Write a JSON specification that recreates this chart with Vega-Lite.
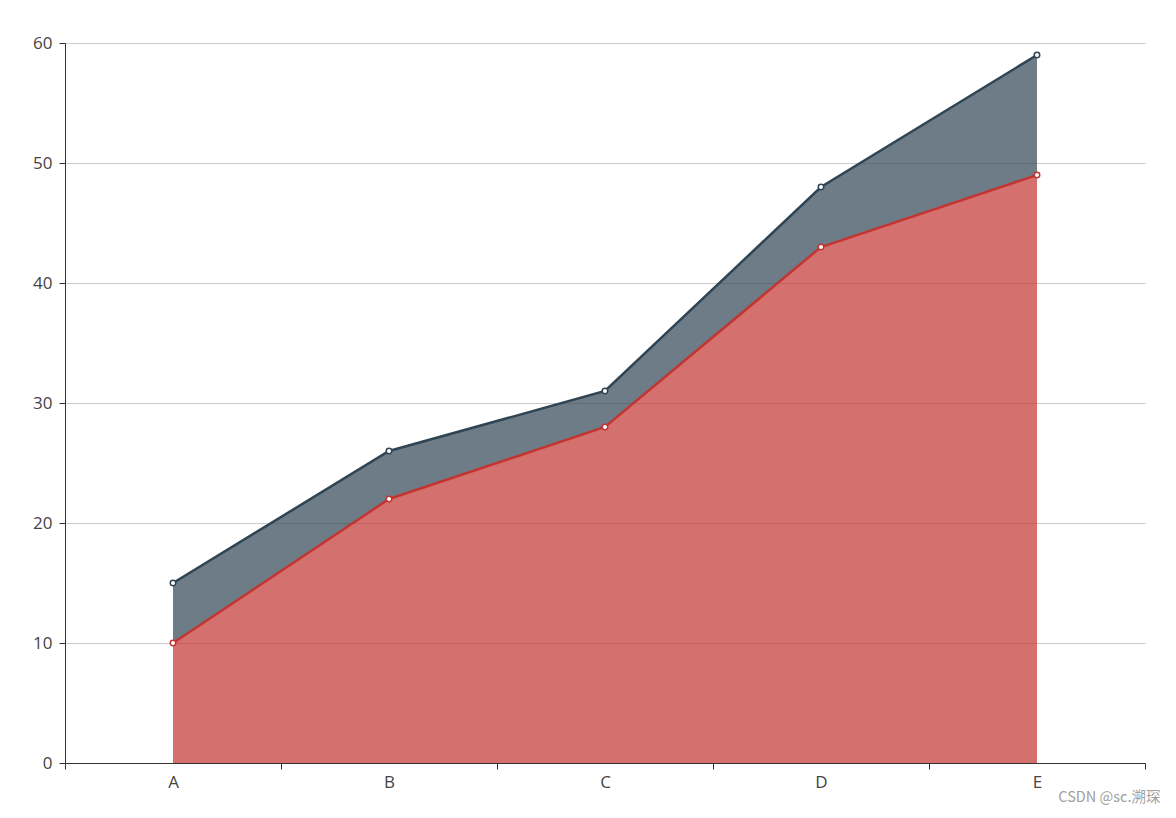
{
  "$schema": "https://vega.github.io/schema/vega-lite/v6.json",
  "width": 1080,
  "height": 720,
  "autosize": {"type": "none"},
  "padding": {"left": 65, "top": 43, "right": 31, "bottom": 55},
  "background": "white",
  "title": {
    "text": "CSDN @sc.溯琛",
    "orient": "bottom",
    "anchor": "end",
    "font": "Noto Sans CJK SC",
    "fontSize": 14.5,
    "fontWeight": "normal",
    "color": "#a0a0a0",
    "offset": 1,
    "dx": 15
  },
  "data": {
    "values": [
      {"cat": "A", "series": "s1", "value": 10, "ord": 1},
      {"cat": "B", "series": "s1", "value": 22, "ord": 1},
      {"cat": "C", "series": "s1", "value": 28, "ord": 1},
      {"cat": "D", "series": "s1", "value": 43, "ord": 1},
      {"cat": "E", "series": "s1", "value": 49, "ord": 1},
      {"cat": "A", "series": "s2", "value": 5, "ord": 2},
      {"cat": "B", "series": "s2", "value": 4, "ord": 2},
      {"cat": "C", "series": "s2", "value": 3, "ord": 2},
      {"cat": "D", "series": "s2", "value": 5, "ord": 2},
      {"cat": "E", "series": "s2", "value": 10, "ord": 2}
    ]
  },
  "encoding": {
    "x": {
      "field": "cat",
      "type": "nominal",
      "bandPosition": 0.5,
      "scale": {"type": "band", "paddingInner": 0, "paddingOuter": 0},
      "axis": {
        "title": null,
        "labelAngle": 0,
        "tickBand": "extent",
        "grid": false,
        "domainColor": "#333",
        "tickColor": "#333",
        "tickSize": 6,
        "labelPadding": 5,
        "labelFontSize": 17,
        "labelColor": "#444"
      }
    },
    "y": {
      "field": "value",
      "type": "quantitative",
      "stack": "zero",
      "scale": {"domain": [0, 60], "nice": false},
      "axis": {
        "title": null,
        "values": [0, 10, 20, 30, 40, 50, 60],
        "grid": true,
        "gridColor": "#cccccc",
        "domainColor": "#333",
        "tickColor": "#333",
        "tickSize": 6,
        "labelPadding": 7,
        "labelFontSize": 17,
        "labelColor": "#444"
      }
    },
    "color": {
      "field": "series",
      "type": "nominal",
      "scale": {"domain": ["s1", "s2"], "range": ["#c23531", "#2f4554"]},
      "legend": null
    },
    "order": {"field": "ord", "type": "quantitative"}
  },
  "layer": [
    {"mark": {"type": "area", "fillOpacity": 0.7}},
    {"mark": {"type": "line", "strokeWidth": 2.5}},
    {
      "mark": {
        "type": "point",
        "filled": false,
        "fill": "white",
        "fillOpacity": 1,
        "opacity": 1,
        "size": 30,
        "strokeWidth": 1.5
      }
    }
  ],
  "config": {
    "view": {"stroke": null},
    "font": "Open Sans",
    "axis": {"labelFont": "Open Sans"}
  }
}
